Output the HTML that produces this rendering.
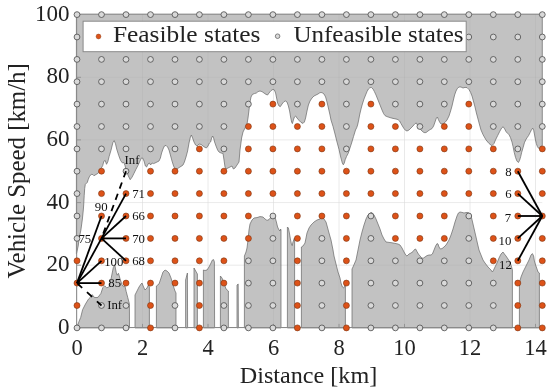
<!DOCTYPE html>
<html><head><meta charset="utf-8"><title>Feasible states</title>
<style>html,body{margin:0;padding:0;background:#fff}body{width:550px;height:391px;position:relative;overflow:hidden}</style>
</head><body>
<svg width="550" height="391" viewBox="0 0 550 391" style="position:absolute;left:0;top:0">
<rect x="0" y="0" width="550" height="391" fill="#fff"/>
<line x1="77.0" y1="14.6" x2="77.0" y2="327.9" stroke="#ececec" stroke-width="0.8"/>
<line x1="142.5" y1="14.6" x2="142.5" y2="327.9" stroke="#ececec" stroke-width="0.8"/>
<line x1="208.0" y1="14.6" x2="208.0" y2="327.9" stroke="#ececec" stroke-width="0.8"/>
<line x1="273.5" y1="14.6" x2="273.5" y2="327.9" stroke="#ececec" stroke-width="0.8"/>
<line x1="339.0" y1="14.6" x2="339.0" y2="327.9" stroke="#ececec" stroke-width="0.8"/>
<line x1="404.5" y1="14.6" x2="404.5" y2="327.9" stroke="#ececec" stroke-width="0.8"/>
<line x1="470.0" y1="14.6" x2="470.0" y2="327.9" stroke="#ececec" stroke-width="0.8"/>
<line x1="535.5" y1="14.6" x2="535.5" y2="327.9" stroke="#ececec" stroke-width="0.8"/>
<line x1="77.0" y1="327.9" x2="542.3" y2="327.9" stroke="#ececec" stroke-width="0.8"/>
<line x1="77.0" y1="265.2" x2="542.3" y2="265.2" stroke="#ececec" stroke-width="0.8"/>
<line x1="77.0" y1="202.6" x2="542.3" y2="202.6" stroke="#ececec" stroke-width="0.8"/>
<line x1="77.0" y1="139.9" x2="542.3" y2="139.9" stroke="#ececec" stroke-width="0.8"/>
<line x1="77.0" y1="77.3" x2="542.3" y2="77.3" stroke="#ececec" stroke-width="0.8"/>
<line x1="77.0" y1="14.6" x2="542.3" y2="14.6" stroke="#ececec" stroke-width="0.8"/>
<polygon points="76.4,14.1 542.3,14.1 542.3,145.0 541.4,147.2 540.0,148.6 538.5,148.2 537.3,146.4 536.3,143.5 535.3,139.2 534.4,134.0 533.7,130.4 532.7,128.2 531.5,129.7 530.1,132.6 528.6,135.5 527.1,137.7 525.7,139.9 524.4,142.8 523.2,147.2 521.7,152.3 520.7,156.6 519.6,160.3 518.4,162.5 516.9,161.0 515.5,157.4 514.2,152.3 513.0,146.4 512.0,142.1 510.5,137.7 509.1,134.8 507.6,133.3 506.2,131.9 504.7,129.0 503.2,126.8 501.8,127.8 499.9,131.1 497.7,135.5 495.5,139.9 494.0,143.5 491.9,145.7 489.0,143.5 486.0,139.9 483.1,134.8 481.0,130.0 479.6,125.0 478.0,119.0 476.4,113.0 475.0,107.0 473.4,101.0 472.0,96.0 470.6,92.4 469.0,89.6 467.0,87.6 465.0,87.4 463.0,88.0 461.0,87.0 459.0,87.0 457.4,88.4 456.0,91.0 454.6,95.0 453.4,100.0 452.0,106.0 450.6,111.0 449.0,116.0 447.0,120.0 445.0,122.4 443.0,124.0 441.0,124.0 439.6,122.0 438.4,119.6 437.4,117.0 436.4,118.0 435.0,122.0 433.6,126.0 432.0,128.6 430.0,129.6 428.0,131.0 426.0,132.6 424.0,132.6 422.0,131.0 420.0,129.0 418.0,126.0 416.4,123.0 415.0,123.6 413.0,126.0 411.0,128.0 409.0,130.0 407.0,131.0 405.6,130.4 404.0,128.6 402.4,126.0 401.0,123.6 399.6,121.0 398.0,119.6 396.0,119.0 393.0,118.4 390.0,117.6 387.0,116.6 385.0,115.6 383.6,113.6 382.0,110.0 380.0,105.0 378.0,100.0 376.0,95.0 374.4,91.6 373.0,89.0 371.6,87.6 370.0,87.6 368.4,89.0 367.0,91.6 365.6,95.0 364.0,99.0 362.4,104.0 361.0,109.0 359.6,115.0 358.7,120.0 357.6,125.0 356.7,127.7 355.5,130.0 353.5,136.6 351.6,143.0 349.7,148.8 348.2,153.3 346.5,156.5 345.2,159.7 344.3,163.0 343.3,164.8 342.3,163.0 340.7,157.0 339.0,149.4 337.0,142.0 335.0,134.0 333.0,126.4 331.0,120.0 330.0,115.0 328.4,108.0 327.0,102.0 325.6,97.0 324.0,94.0 322.0,92.6 320.0,92.6 318.0,94.0 316.0,95.0 314.0,96.0 312.0,98.0 310.0,101.0 308.4,105.0 307.0,111.0 305.6,118.0 304.4,122.0 303.0,123.4 301.0,122.4 299.0,120.4 297.0,118.0 295.6,116.0 294.4,117.0 293.4,120.0 292.4,123.6 291.6,122.0 290.6,117.0 289.6,111.0 288.4,106.0 287.0,102.0 285.6,101.0 284.0,101.6 282.0,104.0 280.4,106.6 279.0,106.0 277.6,103.0 276.6,98.0 275.6,93.0 274.4,90.0 273.0,89.4 271.0,90.6 269.0,93.0 267.6,95.0 266.0,94.4 264.0,93.0 262.0,91.6 260.0,91.0 258.0,91.6 256.4,93.0 254.4,93.6 252.4,94.4 251.0,97.0 250.0,102.0 249.0,110.0 248.0,118.0 247.0,124.0 245.0,128.0 243.0,132.0 241.6,138.0 240.0,150.0 239.0,162.0 237.0,165.0 235.0,168.0 233.4,169.0 232.0,166.0 230.0,167.0 228.0,168.0 226.0,169.0 225.0,167.0 224.0,160.0 223.0,153.4 221.0,153.0 219.0,152.0 217.6,150.0 216.0,146.0 214.6,142.0 213.6,138.0 212.6,136.0 211.6,138.0 210.6,142.0 209.4,143.0 208.0,146.0 206.4,148.0 205.0,147.4 203.0,146.0 201.0,144.4 199.0,144.0 197.0,146.0 195.6,145.0 194.0,142.0 192.6,138.0 191.4,135.0 190.4,137.0 189.0,143.0 187.6,151.0 186.0,157.0 184.4,162.0 183.0,165.0 181.0,166.4 179.0,167.6 177.0,169.0 175.0,169.0 173.6,166.0 172.0,161.0 170.4,155.0 169.0,150.0 167.6,147.0 166.0,145.4 164.4,146.0 163.0,149.0 161.6,153.0 160.4,158.0 159.0,161.0 157.0,162.0 155.0,163.0 153.6,163.6 152.0,163.0 150.6,165.0 149.4,163.0 148.0,164.0 146.6,167.0 145.4,166.0 144.0,161.0 142.6,158.0 141.4,158.0 140.0,161.0 137.9,165.6 135.9,169.4 134.0,173.3 132.1,177.1 130.2,179.7 128.3,175.9 126.3,170.7 125.0,165.6 123.8,162.4 122.5,163.0 120.6,160.5 118.7,155.4 116.7,149.0 115.5,143.8 114.2,140.6 112.9,142.6 111.0,150.2 109.1,156.6 107.8,161.8 106.5,164.3 105.2,160.5 103.9,161.1 102.7,165.6 100.8,169.0 98.6,172.7 97.0,174.0 96.0,174.4 95.0,175.2 93.9,175.7 92.9,174.7 91.9,174.2 90.4,175.2 89.3,176.8 88.3,179.3 87.3,182.4 86.3,183.4 85.3,184.4 84.7,188.5 84.2,195.7 83.7,204.9 83.3,210.0 82.4,219.0 80.9,230.0 79.2,238.0 78.2,246.0 76.4,254.0" fill="#c2c2c2" stroke="#666" stroke-width="0.7" stroke-linejoin="round"/>
<polygon points="76.6,327.9 77.8,325.0 79.2,321.0 80.7,317.4 82.6,309.7 85.5,304.0 88.4,299.2 90.3,297.3 92.2,294.6 94.2,297.3 96.0,297.6 98.0,297.3 100.9,293.4 102.8,287.7 104.7,285.8 106.6,287.7 108.0,287.4 109.5,286.2 111.4,277.1 113.3,267.5 114.7,264.6 116.2,272.3 117.2,275.2 118.5,273.3 120.1,279.0 122.0,284.8 123.5,286.7 124.9,285.8 126.2,291.5 127.7,297.3 128.7,301.1 129.4,304.0 129.5,327.9" fill="#c2c2c2" stroke="#666" stroke-width="0.7" stroke-linejoin="round"/>
<polygon points="135.0,327.9 135.0,295.0 137.0,291.0 139.0,287.0 141.0,284.0 142.0,283.0 143.6,287.0 145.0,290.0 147.0,288.0 148.4,285.0 149.4,287.0 149.4,327.9" fill="#c2c2c2" stroke="#666" stroke-width="0.7" stroke-linejoin="round"/>
<polygon points="156.4,327.9 156.4,286.0 159.0,284.0 161.0,278.0 163.0,272.0 165.0,270.0 167.0,271.0 169.0,273.0 171.0,278.0 173.0,285.0 175.0,291.0 176.0,293.0 176.0,327.9" fill="#c2c2c2" stroke="#666" stroke-width="0.7" stroke-linejoin="round"/>
<polygon points="185.6,327.9 185.6,280.0 187.4,273.0 187.6,327.9" fill="#c2c2c2" stroke="#666" stroke-width="0.7" stroke-linejoin="round"/>
<polygon points="194.0,327.9 194.0,268.0 197.4,274.0 197.4,327.9" fill="#c2c2c2" stroke="#666" stroke-width="0.7" stroke-linejoin="round"/>
<polygon points="203.4,327.9 203.4,270.0 205.0,270.5 207.0,270.0 209.0,267.0 211.0,263.0 212.4,260.0 213.6,259.6 214.4,262.0 214.6,327.9" fill="#c2c2c2" stroke="#666" stroke-width="0.7" stroke-linejoin="round"/>
<polygon points="220.4,327.9 220.4,276.0 222.0,278.0 224.0,283.0 226.0,289.0 228.4,291.0 228.4,327.9" fill="#c2c2c2" stroke="#666" stroke-width="0.7" stroke-linejoin="round"/>
<polygon points="237.0,327.9 237.0,285.0 238.2,284.0 238.4,327.9" fill="#c2c2c2" stroke="#666" stroke-width="0.7" stroke-linejoin="round"/>
<polygon points="244.4,327.9 244.4,256.0 246.0,252.0 247.0,248.0 248.0,240.0 249.0,230.0 250.0,224.0 252.0,220.0 254.0,218.0 257.0,217.6 260.0,216.6 263.0,217.0 265.0,219.0 267.0,220.4 269.0,219.6 271.0,217.0 273.0,216.0 275.0,217.0 276.4,222.0 277.6,227.0 279.0,230.0 280.0,231.0 280.6,229.0 281.0,230.0 281.0,327.9" fill="#c2c2c2" stroke="#666" stroke-width="0.7" stroke-linejoin="round"/>
<polygon points="287.4,327.9 287.4,227.0 288.4,228.0 289.4,233.0 290.4,239.0 291.4,244.0 292.2,245.6 293.0,242.0 294.0,239.0 294.6,238.0 294.6,327.9" fill="#c2c2c2" stroke="#666" stroke-width="0.7" stroke-linejoin="round"/>
<polygon points="301.4,327.9 301.4,247.0 303.0,246.0 305.0,243.0 306.0,238.0 307.0,233.0 309.0,228.0 311.0,225.0 314.0,222.0 317.0,220.0 320.0,219.0 322.0,217.6 324.0,219.0 326.0,222.0 327.4,227.0 329.0,233.0 331.0,240.0 333.0,250.0 334.0,256.0 336.0,264.0 338.0,272.0 340.0,278.0 341.0,283.0 342.4,287.0 343.6,288.0 344.6,286.0 345.4,285.0 345.4,327.9" fill="#c2c2c2" stroke="#666" stroke-width="0.7" stroke-linejoin="round"/>
<polygon points="352.0,327.9 352.0,269.0 353.0,267.0 356.0,260.0 358.0,250.0 360.0,240.0 362.0,232.0 364.0,225.0 366.0,219.0 368.0,215.0 370.0,213.0 372.0,212.6 374.0,215.0 376.0,219.0 378.0,224.0 380.0,229.0 382.0,235.0 384.0,239.0 386.0,242.0 389.0,242.4 392.0,242.8 395.0,243.4 398.0,244.0 400.0,245.0 402.0,248.0 404.0,252.0 406.0,255.4 407.0,256.0 409.0,254.0 411.0,253.0 413.0,251.6 414.4,249.6 415.6,249.0 417.0,251.6 418.4,254.0 420.0,256.0 421.6,257.6 423.0,258.4 425.0,257.0 427.0,255.6 429.0,255.0 431.0,255.0 432.4,254.0 434.0,250.0 435.6,246.0 437.0,243.6 438.0,244.0 439.0,247.0 440.4,249.0 442.0,248.6 444.0,247.0 446.0,245.0 449.0,240.0 451.0,235.0 453.0,229.0 455.0,222.0 457.0,216.0 458.4,213.0 460.0,212.0 462.0,212.4 464.0,213.0 466.0,212.6 468.0,212.4 470.0,214.0 471.6,218.0 473.0,224.0 474.4,230.0 476.0,237.0 477.6,244.0 479.0,250.0 481.0,255.0 483.0,260.0 485.0,263.0 488.0,267.0 491.0,270.0 492.4,272.0 493.6,270.0 495.0,267.0 497.0,263.0 499.0,258.0 501.0,254.0 503.0,252.0 504.4,254.0 506.0,256.0 508.0,259.0 510.0,262.0 511.6,267.0 512.4,270.0 512.4,327.9" fill="#c2c2c2" stroke="#666" stroke-width="0.7" stroke-linejoin="round"/>
<polygon points="519.4,327.9 519.4,283.0 521.0,277.0 523.0,272.0 525.0,268.0 527.0,264.0 529.0,260.0 531.0,255.0 532.4,253.6 533.6,256.0 534.4,261.0 535.6,265.0 537.0,269.0 538.0,272.0 539.4,273.0 539.4,327.9" fill="#c2c2c2" stroke="#666" stroke-width="0.7" stroke-linejoin="round"/>
<line x1="77.0" y1="14.6" x2="77.0" y2="327.9" stroke="#000" stroke-opacity="0.035" stroke-width="0.8"/>
<line x1="142.5" y1="14.6" x2="142.5" y2="327.9" stroke="#000" stroke-opacity="0.035" stroke-width="0.8"/>
<line x1="208.0" y1="14.6" x2="208.0" y2="327.9" stroke="#000" stroke-opacity="0.035" stroke-width="0.8"/>
<line x1="273.5" y1="14.6" x2="273.5" y2="327.9" stroke="#000" stroke-opacity="0.035" stroke-width="0.8"/>
<line x1="339.0" y1="14.6" x2="339.0" y2="327.9" stroke="#000" stroke-opacity="0.035" stroke-width="0.8"/>
<line x1="404.5" y1="14.6" x2="404.5" y2="327.9" stroke="#000" stroke-opacity="0.035" stroke-width="0.8"/>
<line x1="470.0" y1="14.6" x2="470.0" y2="327.9" stroke="#000" stroke-opacity="0.035" stroke-width="0.8"/>
<line x1="535.5" y1="14.6" x2="535.5" y2="327.9" stroke="#000" stroke-opacity="0.035" stroke-width="0.8"/>
<line x1="77.0" y1="327.9" x2="542.3" y2="327.9" stroke="#000" stroke-opacity="0.035" stroke-width="0.8"/>
<line x1="77.0" y1="265.2" x2="542.3" y2="265.2" stroke="#000" stroke-opacity="0.035" stroke-width="0.8"/>
<line x1="77.0" y1="202.6" x2="542.3" y2="202.6" stroke="#000" stroke-opacity="0.035" stroke-width="0.8"/>
<line x1="77.0" y1="139.9" x2="542.3" y2="139.9" stroke="#000" stroke-opacity="0.035" stroke-width="0.8"/>
<line x1="77.0" y1="77.3" x2="542.3" y2="77.3" stroke="#000" stroke-opacity="0.035" stroke-width="0.8"/>
<line x1="77.0" y1="14.6" x2="542.3" y2="14.6" stroke="#000" stroke-opacity="0.035" stroke-width="0.8"/>
<line x1="76.6" y1="14.2" x2="76.6" y2="327.9" stroke="#8a8a8a" stroke-width="1"/>
<line x1="76.1" y1="327.5" x2="542.3" y2="327.5" stroke="#8a8a8a" stroke-width="1"/>
<line x1="77.0" y1="327.9" x2="77.0" y2="323.9" stroke="#8a8a8a" stroke-width="0.8"/>
<line x1="142.5" y1="327.9" x2="142.5" y2="323.9" stroke="#8a8a8a" stroke-width="0.8"/>
<line x1="208.0" y1="327.9" x2="208.0" y2="323.9" stroke="#8a8a8a" stroke-width="0.8"/>
<line x1="273.5" y1="327.9" x2="273.5" y2="323.9" stroke="#8a8a8a" stroke-width="0.8"/>
<line x1="339.0" y1="327.9" x2="339.0" y2="323.9" stroke="#8a8a8a" stroke-width="0.8"/>
<line x1="404.5" y1="327.9" x2="404.5" y2="323.9" stroke="#8a8a8a" stroke-width="0.8"/>
<line x1="470.0" y1="327.9" x2="470.0" y2="323.9" stroke="#8a8a8a" stroke-width="0.8"/>
<line x1="535.5" y1="327.9" x2="535.5" y2="323.9" stroke="#8a8a8a" stroke-width="0.8"/>
<line x1="77.0" y1="327.9" x2="81.0" y2="327.9" stroke="#8a8a8a" stroke-width="0.8"/>
<line x1="77.0" y1="265.2" x2="81.0" y2="265.2" stroke="#8a8a8a" stroke-width="0.8"/>
<line x1="77.0" y1="202.6" x2="81.0" y2="202.6" stroke="#8a8a8a" stroke-width="0.8"/>
<line x1="77.0" y1="139.9" x2="81.0" y2="139.9" stroke="#8a8a8a" stroke-width="0.8"/>
<line x1="77.0" y1="77.3" x2="81.0" y2="77.3" stroke="#8a8a8a" stroke-width="0.8"/>
<line x1="77.0" y1="14.6" x2="81.0" y2="14.6" stroke="#8a8a8a" stroke-width="0.8"/>
<circle cx="77.0" cy="14.6" r="2.9" fill="#d9d9d9" stroke="#4a4a4a" stroke-width="0.8"/>
<circle cx="101.5" cy="14.6" r="2.9" fill="#d9d9d9" stroke="#4a4a4a" stroke-width="0.8"/>
<circle cx="126.0" cy="14.6" r="2.9" fill="#d9d9d9" stroke="#4a4a4a" stroke-width="0.8"/>
<circle cx="150.5" cy="14.6" r="2.9" fill="#d9d9d9" stroke="#4a4a4a" stroke-width="0.8"/>
<circle cx="175.0" cy="14.6" r="2.9" fill="#d9d9d9" stroke="#4a4a4a" stroke-width="0.8"/>
<circle cx="199.4" cy="14.6" r="2.9" fill="#d9d9d9" stroke="#4a4a4a" stroke-width="0.8"/>
<circle cx="223.9" cy="14.6" r="2.9" fill="#d9d9d9" stroke="#4a4a4a" stroke-width="0.8"/>
<circle cx="248.4" cy="14.6" r="2.9" fill="#d9d9d9" stroke="#4a4a4a" stroke-width="0.8"/>
<circle cx="272.9" cy="14.6" r="2.9" fill="#d9d9d9" stroke="#4a4a4a" stroke-width="0.8"/>
<circle cx="297.4" cy="14.6" r="2.9" fill="#d9d9d9" stroke="#4a4a4a" stroke-width="0.8"/>
<circle cx="321.9" cy="14.6" r="2.9" fill="#d9d9d9" stroke="#4a4a4a" stroke-width="0.8"/>
<circle cx="346.4" cy="14.6" r="2.9" fill="#d9d9d9" stroke="#4a4a4a" stroke-width="0.8"/>
<circle cx="370.9" cy="14.6" r="2.9" fill="#d9d9d9" stroke="#4a4a4a" stroke-width="0.8"/>
<circle cx="395.4" cy="14.6" r="2.9" fill="#d9d9d9" stroke="#4a4a4a" stroke-width="0.8"/>
<circle cx="419.9" cy="14.6" r="2.9" fill="#d9d9d9" stroke="#4a4a4a" stroke-width="0.8"/>
<circle cx="444.3" cy="14.6" r="2.9" fill="#d9d9d9" stroke="#4a4a4a" stroke-width="0.8"/>
<circle cx="468.8" cy="14.6" r="2.9" fill="#d9d9d9" stroke="#4a4a4a" stroke-width="0.8"/>
<circle cx="493.3" cy="14.6" r="2.9" fill="#d9d9d9" stroke="#4a4a4a" stroke-width="0.8"/>
<circle cx="517.8" cy="14.6" r="2.9" fill="#d9d9d9" stroke="#4a4a4a" stroke-width="0.8"/>
<circle cx="542.3" cy="14.6" r="2.9" fill="#d9d9d9" stroke="#4a4a4a" stroke-width="0.8"/>
<circle cx="77.0" cy="37.0" r="2.9" fill="#d9d9d9" stroke="#4a4a4a" stroke-width="0.8"/>
<circle cx="101.5" cy="37.0" r="2.9" fill="#d9d9d9" stroke="#4a4a4a" stroke-width="0.8"/>
<circle cx="126.0" cy="37.0" r="2.9" fill="#d9d9d9" stroke="#4a4a4a" stroke-width="0.8"/>
<circle cx="150.5" cy="37.0" r="2.9" fill="#d9d9d9" stroke="#4a4a4a" stroke-width="0.8"/>
<circle cx="175.0" cy="37.0" r="2.9" fill="#d9d9d9" stroke="#4a4a4a" stroke-width="0.8"/>
<circle cx="199.4" cy="37.0" r="2.9" fill="#d9d9d9" stroke="#4a4a4a" stroke-width="0.8"/>
<circle cx="223.9" cy="37.0" r="2.9" fill="#d9d9d9" stroke="#4a4a4a" stroke-width="0.8"/>
<circle cx="248.4" cy="37.0" r="2.9" fill="#d9d9d9" stroke="#4a4a4a" stroke-width="0.8"/>
<circle cx="272.9" cy="37.0" r="2.9" fill="#d9d9d9" stroke="#4a4a4a" stroke-width="0.8"/>
<circle cx="297.4" cy="37.0" r="2.9" fill="#d9d9d9" stroke="#4a4a4a" stroke-width="0.8"/>
<circle cx="321.9" cy="37.0" r="2.9" fill="#d9d9d9" stroke="#4a4a4a" stroke-width="0.8"/>
<circle cx="346.4" cy="37.0" r="2.9" fill="#d9d9d9" stroke="#4a4a4a" stroke-width="0.8"/>
<circle cx="370.9" cy="37.0" r="2.9" fill="#d9d9d9" stroke="#4a4a4a" stroke-width="0.8"/>
<circle cx="395.4" cy="37.0" r="2.9" fill="#d9d9d9" stroke="#4a4a4a" stroke-width="0.8"/>
<circle cx="419.9" cy="37.0" r="2.9" fill="#d9d9d9" stroke="#4a4a4a" stroke-width="0.8"/>
<circle cx="444.3" cy="37.0" r="2.9" fill="#d9d9d9" stroke="#4a4a4a" stroke-width="0.8"/>
<circle cx="468.8" cy="37.0" r="2.9" fill="#d9d9d9" stroke="#4a4a4a" stroke-width="0.8"/>
<circle cx="493.3" cy="37.0" r="2.9" fill="#d9d9d9" stroke="#4a4a4a" stroke-width="0.8"/>
<circle cx="517.8" cy="37.0" r="2.9" fill="#d9d9d9" stroke="#4a4a4a" stroke-width="0.8"/>
<circle cx="542.3" cy="37.0" r="2.9" fill="#d9d9d9" stroke="#4a4a4a" stroke-width="0.8"/>
<circle cx="77.0" cy="59.4" r="2.9" fill="#d9d9d9" stroke="#4a4a4a" stroke-width="0.8"/>
<circle cx="101.5" cy="59.4" r="2.9" fill="#d9d9d9" stroke="#4a4a4a" stroke-width="0.8"/>
<circle cx="126.0" cy="59.4" r="2.9" fill="#d9d9d9" stroke="#4a4a4a" stroke-width="0.8"/>
<circle cx="150.5" cy="59.4" r="2.9" fill="#d9d9d9" stroke="#4a4a4a" stroke-width="0.8"/>
<circle cx="175.0" cy="59.4" r="2.9" fill="#d9d9d9" stroke="#4a4a4a" stroke-width="0.8"/>
<circle cx="199.4" cy="59.4" r="2.9" fill="#d9d9d9" stroke="#4a4a4a" stroke-width="0.8"/>
<circle cx="223.9" cy="59.4" r="2.9" fill="#d9d9d9" stroke="#4a4a4a" stroke-width="0.8"/>
<circle cx="248.4" cy="59.4" r="2.9" fill="#d9d9d9" stroke="#4a4a4a" stroke-width="0.8"/>
<circle cx="272.9" cy="59.4" r="2.9" fill="#d9d9d9" stroke="#4a4a4a" stroke-width="0.8"/>
<circle cx="297.4" cy="59.4" r="2.9" fill="#d9d9d9" stroke="#4a4a4a" stroke-width="0.8"/>
<circle cx="321.9" cy="59.4" r="2.9" fill="#d9d9d9" stroke="#4a4a4a" stroke-width="0.8"/>
<circle cx="346.4" cy="59.4" r="2.9" fill="#d9d9d9" stroke="#4a4a4a" stroke-width="0.8"/>
<circle cx="370.9" cy="59.4" r="2.9" fill="#d9d9d9" stroke="#4a4a4a" stroke-width="0.8"/>
<circle cx="395.4" cy="59.4" r="2.9" fill="#d9d9d9" stroke="#4a4a4a" stroke-width="0.8"/>
<circle cx="419.9" cy="59.4" r="2.9" fill="#d9d9d9" stroke="#4a4a4a" stroke-width="0.8"/>
<circle cx="444.3" cy="59.4" r="2.9" fill="#d9d9d9" stroke="#4a4a4a" stroke-width="0.8"/>
<circle cx="468.8" cy="59.4" r="2.9" fill="#d9d9d9" stroke="#4a4a4a" stroke-width="0.8"/>
<circle cx="493.3" cy="59.4" r="2.9" fill="#d9d9d9" stroke="#4a4a4a" stroke-width="0.8"/>
<circle cx="517.8" cy="59.4" r="2.9" fill="#d9d9d9" stroke="#4a4a4a" stroke-width="0.8"/>
<circle cx="542.3" cy="59.4" r="2.9" fill="#d9d9d9" stroke="#4a4a4a" stroke-width="0.8"/>
<circle cx="77.0" cy="81.7" r="2.9" fill="#d9d9d9" stroke="#4a4a4a" stroke-width="0.8"/>
<circle cx="101.5" cy="81.7" r="2.9" fill="#d9d9d9" stroke="#4a4a4a" stroke-width="0.8"/>
<circle cx="126.0" cy="81.7" r="2.9" fill="#d9d9d9" stroke="#4a4a4a" stroke-width="0.8"/>
<circle cx="150.5" cy="81.7" r="2.9" fill="#d9d9d9" stroke="#4a4a4a" stroke-width="0.8"/>
<circle cx="175.0" cy="81.7" r="2.9" fill="#d9d9d9" stroke="#4a4a4a" stroke-width="0.8"/>
<circle cx="199.4" cy="81.7" r="2.9" fill="#d9d9d9" stroke="#4a4a4a" stroke-width="0.8"/>
<circle cx="223.9" cy="81.7" r="2.9" fill="#d9d9d9" stroke="#4a4a4a" stroke-width="0.8"/>
<circle cx="248.4" cy="81.7" r="2.9" fill="#d9d9d9" stroke="#4a4a4a" stroke-width="0.8"/>
<circle cx="272.9" cy="81.7" r="2.9" fill="#d9d9d9" stroke="#4a4a4a" stroke-width="0.8"/>
<circle cx="297.4" cy="81.7" r="2.9" fill="#d9d9d9" stroke="#4a4a4a" stroke-width="0.8"/>
<circle cx="321.9" cy="81.7" r="2.9" fill="#d9d9d9" stroke="#4a4a4a" stroke-width="0.8"/>
<circle cx="346.4" cy="81.7" r="2.9" fill="#d9d9d9" stroke="#4a4a4a" stroke-width="0.8"/>
<circle cx="370.9" cy="81.7" r="2.9" fill="#d9d9d9" stroke="#4a4a4a" stroke-width="0.8"/>
<circle cx="395.4" cy="81.7" r="2.9" fill="#d9d9d9" stroke="#4a4a4a" stroke-width="0.8"/>
<circle cx="419.9" cy="81.7" r="2.9" fill="#d9d9d9" stroke="#4a4a4a" stroke-width="0.8"/>
<circle cx="444.3" cy="81.7" r="2.9" fill="#d9d9d9" stroke="#4a4a4a" stroke-width="0.8"/>
<circle cx="468.8" cy="81.7" r="2.9" fill="#d9d9d9" stroke="#4a4a4a" stroke-width="0.8"/>
<circle cx="493.3" cy="81.7" r="2.9" fill="#d9d9d9" stroke="#4a4a4a" stroke-width="0.8"/>
<circle cx="517.8" cy="81.7" r="2.9" fill="#d9d9d9" stroke="#4a4a4a" stroke-width="0.8"/>
<circle cx="542.3" cy="81.7" r="2.9" fill="#d9d9d9" stroke="#4a4a4a" stroke-width="0.8"/>
<circle cx="77.0" cy="104.1" r="2.9" fill="#d9d9d9" stroke="#4a4a4a" stroke-width="0.8"/>
<circle cx="101.5" cy="104.1" r="2.9" fill="#d9d9d9" stroke="#4a4a4a" stroke-width="0.8"/>
<circle cx="126.0" cy="104.1" r="2.9" fill="#d9d9d9" stroke="#4a4a4a" stroke-width="0.8"/>
<circle cx="150.5" cy="104.1" r="2.9" fill="#d9d9d9" stroke="#4a4a4a" stroke-width="0.8"/>
<circle cx="175.0" cy="104.1" r="2.9" fill="#d9d9d9" stroke="#4a4a4a" stroke-width="0.8"/>
<circle cx="199.4" cy="104.1" r="2.9" fill="#d9d9d9" stroke="#4a4a4a" stroke-width="0.8"/>
<circle cx="223.9" cy="104.1" r="2.9" fill="#d9d9d9" stroke="#4a4a4a" stroke-width="0.8"/>
<circle cx="248.4" cy="104.1" r="2.9" fill="#d9d9d9" stroke="#4a4a4a" stroke-width="0.8"/>
<circle cx="297.4" cy="104.1" r="2.9" fill="#d9d9d9" stroke="#4a4a4a" stroke-width="0.8"/>
<circle cx="346.4" cy="104.1" r="2.9" fill="#d9d9d9" stroke="#4a4a4a" stroke-width="0.8"/>
<circle cx="395.4" cy="104.1" r="2.9" fill="#d9d9d9" stroke="#4a4a4a" stroke-width="0.8"/>
<circle cx="419.9" cy="104.1" r="2.9" fill="#d9d9d9" stroke="#4a4a4a" stroke-width="0.8"/>
<circle cx="444.3" cy="104.1" r="2.9" fill="#d9d9d9" stroke="#4a4a4a" stroke-width="0.8"/>
<circle cx="493.3" cy="104.1" r="2.9" fill="#d9d9d9" stroke="#4a4a4a" stroke-width="0.8"/>
<circle cx="517.8" cy="104.1" r="2.9" fill="#d9d9d9" stroke="#4a4a4a" stroke-width="0.8"/>
<circle cx="542.3" cy="104.1" r="2.9" fill="#d9d9d9" stroke="#4a4a4a" stroke-width="0.8"/>
<circle cx="77.0" cy="126.5" r="2.9" fill="#d9d9d9" stroke="#4a4a4a" stroke-width="0.8"/>
<circle cx="101.5" cy="126.5" r="2.9" fill="#d9d9d9" stroke="#4a4a4a" stroke-width="0.8"/>
<circle cx="126.0" cy="126.5" r="2.9" fill="#d9d9d9" stroke="#4a4a4a" stroke-width="0.8"/>
<circle cx="150.5" cy="126.5" r="2.9" fill="#d9d9d9" stroke="#4a4a4a" stroke-width="0.8"/>
<circle cx="175.0" cy="126.5" r="2.9" fill="#d9d9d9" stroke="#4a4a4a" stroke-width="0.8"/>
<circle cx="199.4" cy="126.5" r="2.9" fill="#d9d9d9" stroke="#4a4a4a" stroke-width="0.8"/>
<circle cx="223.9" cy="126.5" r="2.9" fill="#d9d9d9" stroke="#4a4a4a" stroke-width="0.8"/>
<circle cx="346.4" cy="126.5" r="2.9" fill="#d9d9d9" stroke="#4a4a4a" stroke-width="0.8"/>
<circle cx="419.9" cy="126.5" r="2.9" fill="#d9d9d9" stroke="#4a4a4a" stroke-width="0.8"/>
<circle cx="493.3" cy="126.5" r="2.9" fill="#d9d9d9" stroke="#4a4a4a" stroke-width="0.8"/>
<circle cx="517.8" cy="126.5" r="2.9" fill="#d9d9d9" stroke="#4a4a4a" stroke-width="0.8"/>
<circle cx="542.3" cy="126.5" r="2.9" fill="#d9d9d9" stroke="#4a4a4a" stroke-width="0.8"/>
<circle cx="77.0" cy="148.9" r="2.9" fill="#d9d9d9" stroke="#4a4a4a" stroke-width="0.8"/>
<circle cx="101.5" cy="148.9" r="2.9" fill="#d9d9d9" stroke="#4a4a4a" stroke-width="0.8"/>
<circle cx="126.0" cy="148.9" r="2.9" fill="#d9d9d9" stroke="#4a4a4a" stroke-width="0.8"/>
<circle cx="150.5" cy="148.9" r="2.9" fill="#d9d9d9" stroke="#4a4a4a" stroke-width="0.8"/>
<circle cx="175.0" cy="148.9" r="2.9" fill="#d9d9d9" stroke="#4a4a4a" stroke-width="0.8"/>
<circle cx="223.9" cy="148.9" r="2.9" fill="#d9d9d9" stroke="#4a4a4a" stroke-width="0.8"/>
<circle cx="346.4" cy="148.9" r="2.9" fill="#d9d9d9" stroke="#4a4a4a" stroke-width="0.8"/>
<circle cx="517.8" cy="148.9" r="2.9" fill="#d9d9d9" stroke="#4a4a4a" stroke-width="0.8"/>
<circle cx="77.0" cy="171.2" r="2.9" fill="#d9d9d9" stroke="#4a4a4a" stroke-width="0.8"/>
<circle cx="126.0" cy="171.2" r="2.9" fill="#d9d9d9" stroke="#4a4a4a" stroke-width="0.8"/>
<circle cx="77.0" cy="193.6" r="2.9" fill="#d9d9d9" stroke="#4a4a4a" stroke-width="0.8"/>
<circle cx="77.0" cy="216.0" r="2.9" fill="#d9d9d9" stroke="#4a4a4a" stroke-width="0.8"/>
<circle cx="272.9" cy="216.0" r="2.9" fill="#d9d9d9" stroke="#4a4a4a" stroke-width="0.8"/>
<circle cx="370.9" cy="216.0" r="2.9" fill="#d9d9d9" stroke="#4a4a4a" stroke-width="0.8"/>
<circle cx="468.8" cy="216.0" r="2.9" fill="#d9d9d9" stroke="#4a4a4a" stroke-width="0.8"/>
<circle cx="77.0" cy="238.4" r="2.9" fill="#d9d9d9" stroke="#4a4a4a" stroke-width="0.8"/>
<circle cx="272.9" cy="238.4" r="2.9" fill="#d9d9d9" stroke="#4a4a4a" stroke-width="0.8"/>
<circle cx="321.9" cy="238.4" r="2.9" fill="#d9d9d9" stroke="#4a4a4a" stroke-width="0.8"/>
<circle cx="370.9" cy="238.4" r="2.9" fill="#d9d9d9" stroke="#4a4a4a" stroke-width="0.8"/>
<circle cx="468.8" cy="238.4" r="2.9" fill="#d9d9d9" stroke="#4a4a4a" stroke-width="0.8"/>
<circle cx="248.4" cy="260.8" r="2.9" fill="#d9d9d9" stroke="#4a4a4a" stroke-width="0.8"/>
<circle cx="272.9" cy="260.8" r="2.9" fill="#d9d9d9" stroke="#4a4a4a" stroke-width="0.8"/>
<circle cx="321.9" cy="260.8" r="2.9" fill="#d9d9d9" stroke="#4a4a4a" stroke-width="0.8"/>
<circle cx="370.9" cy="260.8" r="2.9" fill="#d9d9d9" stroke="#4a4a4a" stroke-width="0.8"/>
<circle cx="395.4" cy="260.8" r="2.9" fill="#d9d9d9" stroke="#4a4a4a" stroke-width="0.8"/>
<circle cx="419.9" cy="260.8" r="2.9" fill="#d9d9d9" stroke="#4a4a4a" stroke-width="0.8"/>
<circle cx="444.3" cy="260.8" r="2.9" fill="#d9d9d9" stroke="#4a4a4a" stroke-width="0.8"/>
<circle cx="468.8" cy="260.8" r="2.9" fill="#d9d9d9" stroke="#4a4a4a" stroke-width="0.8"/>
<circle cx="248.4" cy="283.1" r="2.9" fill="#d9d9d9" stroke="#4a4a4a" stroke-width="0.8"/>
<circle cx="272.9" cy="283.1" r="2.9" fill="#d9d9d9" stroke="#4a4a4a" stroke-width="0.8"/>
<circle cx="321.9" cy="283.1" r="2.9" fill="#d9d9d9" stroke="#4a4a4a" stroke-width="0.8"/>
<circle cx="370.9" cy="283.1" r="2.9" fill="#d9d9d9" stroke="#4a4a4a" stroke-width="0.8"/>
<circle cx="395.4" cy="283.1" r="2.9" fill="#d9d9d9" stroke="#4a4a4a" stroke-width="0.8"/>
<circle cx="419.9" cy="283.1" r="2.9" fill="#d9d9d9" stroke="#4a4a4a" stroke-width="0.8"/>
<circle cx="444.3" cy="283.1" r="2.9" fill="#d9d9d9" stroke="#4a4a4a" stroke-width="0.8"/>
<circle cx="468.8" cy="283.1" r="2.9" fill="#d9d9d9" stroke="#4a4a4a" stroke-width="0.8"/>
<circle cx="493.3" cy="283.1" r="2.9" fill="#d9d9d9" stroke="#4a4a4a" stroke-width="0.8"/>
<circle cx="101.5" cy="305.5" r="2.9" fill="#d9d9d9" stroke="#4a4a4a" stroke-width="0.8"/>
<circle cx="126.0" cy="305.5" r="2.9" fill="#d9d9d9" stroke="#4a4a4a" stroke-width="0.8"/>
<circle cx="175.0" cy="305.5" r="2.9" fill="#d9d9d9" stroke="#4a4a4a" stroke-width="0.8"/>
<circle cx="223.9" cy="305.5" r="2.9" fill="#d9d9d9" stroke="#4a4a4a" stroke-width="0.8"/>
<circle cx="248.4" cy="305.5" r="2.9" fill="#d9d9d9" stroke="#4a4a4a" stroke-width="0.8"/>
<circle cx="272.9" cy="305.5" r="2.9" fill="#d9d9d9" stroke="#4a4a4a" stroke-width="0.8"/>
<circle cx="321.9" cy="305.5" r="2.9" fill="#d9d9d9" stroke="#4a4a4a" stroke-width="0.8"/>
<circle cx="370.9" cy="305.5" r="2.9" fill="#d9d9d9" stroke="#4a4a4a" stroke-width="0.8"/>
<circle cx="395.4" cy="305.5" r="2.9" fill="#d9d9d9" stroke="#4a4a4a" stroke-width="0.8"/>
<circle cx="419.9" cy="305.5" r="2.9" fill="#d9d9d9" stroke="#4a4a4a" stroke-width="0.8"/>
<circle cx="444.3" cy="305.5" r="2.9" fill="#d9d9d9" stroke="#4a4a4a" stroke-width="0.8"/>
<circle cx="468.8" cy="305.5" r="2.9" fill="#d9d9d9" stroke="#4a4a4a" stroke-width="0.8"/>
<circle cx="493.3" cy="305.5" r="2.9" fill="#d9d9d9" stroke="#4a4a4a" stroke-width="0.8"/>
<circle cx="77.0" cy="327.9" r="2.9" fill="#d9d9d9" stroke="#4a4a4a" stroke-width="0.8"/>
<circle cx="101.5" cy="327.9" r="2.9" fill="#d9d9d9" stroke="#4a4a4a" stroke-width="0.8"/>
<circle cx="126.0" cy="327.9" r="2.9" fill="#d9d9d9" stroke="#4a4a4a" stroke-width="0.8"/>
<circle cx="175.0" cy="327.9" r="2.9" fill="#d9d9d9" stroke="#4a4a4a" stroke-width="0.8"/>
<circle cx="223.9" cy="327.9" r="2.9" fill="#d9d9d9" stroke="#4a4a4a" stroke-width="0.8"/>
<circle cx="248.4" cy="327.9" r="2.9" fill="#d9d9d9" stroke="#4a4a4a" stroke-width="0.8"/>
<circle cx="272.9" cy="327.9" r="2.9" fill="#d9d9d9" stroke="#4a4a4a" stroke-width="0.8"/>
<circle cx="321.9" cy="327.9" r="2.9" fill="#d9d9d9" stroke="#4a4a4a" stroke-width="0.8"/>
<circle cx="370.9" cy="327.9" r="2.9" fill="#d9d9d9" stroke="#4a4a4a" stroke-width="0.8"/>
<circle cx="395.4" cy="327.9" r="2.9" fill="#d9d9d9" stroke="#4a4a4a" stroke-width="0.8"/>
<circle cx="419.9" cy="327.9" r="2.9" fill="#d9d9d9" stroke="#4a4a4a" stroke-width="0.8"/>
<circle cx="444.3" cy="327.9" r="2.9" fill="#d9d9d9" stroke="#4a4a4a" stroke-width="0.8"/>
<circle cx="468.8" cy="327.9" r="2.9" fill="#d9d9d9" stroke="#4a4a4a" stroke-width="0.8"/>
<circle cx="493.3" cy="327.9" r="2.9" fill="#d9d9d9" stroke="#4a4a4a" stroke-width="0.8"/>
<circle cx="272.9" cy="104.1" r="3.0" fill="#dd5218" stroke="#7a3410" stroke-width="0.6"/>
<circle cx="321.9" cy="104.1" r="3.0" fill="#dd5218" stroke="#7a3410" stroke-width="0.6"/>
<circle cx="370.9" cy="104.1" r="3.0" fill="#dd5218" stroke="#7a3410" stroke-width="0.6"/>
<circle cx="468.8" cy="104.1" r="3.0" fill="#dd5218" stroke="#7a3410" stroke-width="0.6"/>
<circle cx="248.4" cy="126.5" r="3.0" fill="#dd5218" stroke="#7a3410" stroke-width="0.6"/>
<circle cx="272.9" cy="126.5" r="3.0" fill="#dd5218" stroke="#7a3410" stroke-width="0.6"/>
<circle cx="297.4" cy="126.5" r="3.0" fill="#dd5218" stroke="#7a3410" stroke-width="0.6"/>
<circle cx="321.9" cy="126.5" r="3.0" fill="#dd5218" stroke="#7a3410" stroke-width="0.6"/>
<circle cx="370.9" cy="126.5" r="3.0" fill="#dd5218" stroke="#7a3410" stroke-width="0.6"/>
<circle cx="395.4" cy="126.5" r="3.0" fill="#dd5218" stroke="#7a3410" stroke-width="0.6"/>
<circle cx="444.3" cy="126.5" r="3.0" fill="#dd5218" stroke="#7a3410" stroke-width="0.6"/>
<circle cx="468.8" cy="126.5" r="3.0" fill="#dd5218" stroke="#7a3410" stroke-width="0.6"/>
<circle cx="199.4" cy="148.9" r="3.0" fill="#dd5218" stroke="#7a3410" stroke-width="0.6"/>
<circle cx="248.4" cy="148.9" r="3.0" fill="#dd5218" stroke="#7a3410" stroke-width="0.6"/>
<circle cx="272.9" cy="148.9" r="3.0" fill="#dd5218" stroke="#7a3410" stroke-width="0.6"/>
<circle cx="297.4" cy="148.9" r="3.0" fill="#dd5218" stroke="#7a3410" stroke-width="0.6"/>
<circle cx="321.9" cy="148.9" r="3.0" fill="#dd5218" stroke="#7a3410" stroke-width="0.6"/>
<circle cx="370.9" cy="148.9" r="3.0" fill="#dd5218" stroke="#7a3410" stroke-width="0.6"/>
<circle cx="395.4" cy="148.9" r="3.0" fill="#dd5218" stroke="#7a3410" stroke-width="0.6"/>
<circle cx="419.9" cy="148.9" r="3.0" fill="#dd5218" stroke="#7a3410" stroke-width="0.6"/>
<circle cx="444.3" cy="148.9" r="3.0" fill="#dd5218" stroke="#7a3410" stroke-width="0.6"/>
<circle cx="468.8" cy="148.9" r="3.0" fill="#dd5218" stroke="#7a3410" stroke-width="0.6"/>
<circle cx="493.3" cy="148.9" r="3.0" fill="#dd5218" stroke="#7a3410" stroke-width="0.6"/>
<circle cx="542.3" cy="148.9" r="3.0" fill="#dd5218" stroke="#7a3410" stroke-width="0.6"/>
<circle cx="101.5" cy="171.2" r="3.0" fill="#dd5218" stroke="#7a3410" stroke-width="0.6"/>
<circle cx="150.5" cy="171.2" r="3.0" fill="#dd5218" stroke="#7a3410" stroke-width="0.6"/>
<circle cx="175.0" cy="171.2" r="3.0" fill="#dd5218" stroke="#7a3410" stroke-width="0.6"/>
<circle cx="199.4" cy="171.2" r="3.0" fill="#dd5218" stroke="#7a3410" stroke-width="0.6"/>
<circle cx="223.9" cy="171.2" r="3.0" fill="#dd5218" stroke="#7a3410" stroke-width="0.6"/>
<circle cx="248.4" cy="171.2" r="3.0" fill="#dd5218" stroke="#7a3410" stroke-width="0.6"/>
<circle cx="272.9" cy="171.2" r="3.0" fill="#dd5218" stroke="#7a3410" stroke-width="0.6"/>
<circle cx="297.4" cy="171.2" r="3.0" fill="#dd5218" stroke="#7a3410" stroke-width="0.6"/>
<circle cx="321.9" cy="171.2" r="3.0" fill="#dd5218" stroke="#7a3410" stroke-width="0.6"/>
<circle cx="346.4" cy="171.2" r="3.0" fill="#dd5218" stroke="#7a3410" stroke-width="0.6"/>
<circle cx="370.9" cy="171.2" r="3.0" fill="#dd5218" stroke="#7a3410" stroke-width="0.6"/>
<circle cx="395.4" cy="171.2" r="3.0" fill="#dd5218" stroke="#7a3410" stroke-width="0.6"/>
<circle cx="419.9" cy="171.2" r="3.0" fill="#dd5218" stroke="#7a3410" stroke-width="0.6"/>
<circle cx="444.3" cy="171.2" r="3.0" fill="#dd5218" stroke="#7a3410" stroke-width="0.6"/>
<circle cx="468.8" cy="171.2" r="3.0" fill="#dd5218" stroke="#7a3410" stroke-width="0.6"/>
<circle cx="493.3" cy="171.2" r="3.0" fill="#dd5218" stroke="#7a3410" stroke-width="0.6"/>
<circle cx="517.8" cy="171.2" r="3.0" fill="#dd5218" stroke="#7a3410" stroke-width="0.6"/>
<circle cx="542.3" cy="171.2" r="3.0" fill="#dd5218" stroke="#7a3410" stroke-width="0.6"/>
<circle cx="101.5" cy="193.6" r="3.0" fill="#dd5218" stroke="#7a3410" stroke-width="0.6"/>
<circle cx="126.0" cy="193.6" r="3.0" fill="#dd5218" stroke="#7a3410" stroke-width="0.6"/>
<circle cx="150.5" cy="193.6" r="3.0" fill="#dd5218" stroke="#7a3410" stroke-width="0.6"/>
<circle cx="175.0" cy="193.6" r="3.0" fill="#dd5218" stroke="#7a3410" stroke-width="0.6"/>
<circle cx="199.4" cy="193.6" r="3.0" fill="#dd5218" stroke="#7a3410" stroke-width="0.6"/>
<circle cx="223.9" cy="193.6" r="3.0" fill="#dd5218" stroke="#7a3410" stroke-width="0.6"/>
<circle cx="248.4" cy="193.6" r="3.0" fill="#dd5218" stroke="#7a3410" stroke-width="0.6"/>
<circle cx="272.9" cy="193.6" r="3.0" fill="#dd5218" stroke="#7a3410" stroke-width="0.6"/>
<circle cx="297.4" cy="193.6" r="3.0" fill="#dd5218" stroke="#7a3410" stroke-width="0.6"/>
<circle cx="321.9" cy="193.6" r="3.0" fill="#dd5218" stroke="#7a3410" stroke-width="0.6"/>
<circle cx="346.4" cy="193.6" r="3.0" fill="#dd5218" stroke="#7a3410" stroke-width="0.6"/>
<circle cx="370.9" cy="193.6" r="3.0" fill="#dd5218" stroke="#7a3410" stroke-width="0.6"/>
<circle cx="395.4" cy="193.6" r="3.0" fill="#dd5218" stroke="#7a3410" stroke-width="0.6"/>
<circle cx="419.9" cy="193.6" r="3.0" fill="#dd5218" stroke="#7a3410" stroke-width="0.6"/>
<circle cx="444.3" cy="193.6" r="3.0" fill="#dd5218" stroke="#7a3410" stroke-width="0.6"/>
<circle cx="468.8" cy="193.6" r="3.0" fill="#dd5218" stroke="#7a3410" stroke-width="0.6"/>
<circle cx="493.3" cy="193.6" r="3.0" fill="#dd5218" stroke="#7a3410" stroke-width="0.6"/>
<circle cx="517.8" cy="193.6" r="3.0" fill="#dd5218" stroke="#7a3410" stroke-width="0.6"/>
<circle cx="542.3" cy="193.6" r="3.0" fill="#dd5218" stroke="#7a3410" stroke-width="0.6"/>
<circle cx="101.5" cy="216.0" r="3.0" fill="#dd5218" stroke="#7a3410" stroke-width="0.6"/>
<circle cx="126.0" cy="216.0" r="3.0" fill="#dd5218" stroke="#7a3410" stroke-width="0.6"/>
<circle cx="150.5" cy="216.0" r="3.0" fill="#dd5218" stroke="#7a3410" stroke-width="0.6"/>
<circle cx="175.0" cy="216.0" r="3.0" fill="#dd5218" stroke="#7a3410" stroke-width="0.6"/>
<circle cx="199.4" cy="216.0" r="3.0" fill="#dd5218" stroke="#7a3410" stroke-width="0.6"/>
<circle cx="223.9" cy="216.0" r="3.0" fill="#dd5218" stroke="#7a3410" stroke-width="0.6"/>
<circle cx="248.4" cy="216.0" r="3.0" fill="#dd5218" stroke="#7a3410" stroke-width="0.6"/>
<circle cx="297.4" cy="216.0" r="3.0" fill="#dd5218" stroke="#7a3410" stroke-width="0.6"/>
<circle cx="321.9" cy="216.0" r="3.0" fill="#dd5218" stroke="#7a3410" stroke-width="0.6"/>
<circle cx="346.4" cy="216.0" r="3.0" fill="#dd5218" stroke="#7a3410" stroke-width="0.6"/>
<circle cx="395.4" cy="216.0" r="3.0" fill="#dd5218" stroke="#7a3410" stroke-width="0.6"/>
<circle cx="419.9" cy="216.0" r="3.0" fill="#dd5218" stroke="#7a3410" stroke-width="0.6"/>
<circle cx="444.3" cy="216.0" r="3.0" fill="#dd5218" stroke="#7a3410" stroke-width="0.6"/>
<circle cx="493.3" cy="216.0" r="3.0" fill="#dd5218" stroke="#7a3410" stroke-width="0.6"/>
<circle cx="517.8" cy="216.0" r="3.0" fill="#dd5218" stroke="#7a3410" stroke-width="0.6"/>
<circle cx="542.3" cy="216.0" r="3.0" fill="#dd5218" stroke="#7a3410" stroke-width="0.6"/>
<circle cx="101.5" cy="238.4" r="3.0" fill="#dd5218" stroke="#7a3410" stroke-width="0.6"/>
<circle cx="126.0" cy="238.4" r="3.0" fill="#dd5218" stroke="#7a3410" stroke-width="0.6"/>
<circle cx="150.5" cy="238.4" r="3.0" fill="#dd5218" stroke="#7a3410" stroke-width="0.6"/>
<circle cx="175.0" cy="238.4" r="3.0" fill="#dd5218" stroke="#7a3410" stroke-width="0.6"/>
<circle cx="199.4" cy="238.4" r="3.0" fill="#dd5218" stroke="#7a3410" stroke-width="0.6"/>
<circle cx="223.9" cy="238.4" r="3.0" fill="#dd5218" stroke="#7a3410" stroke-width="0.6"/>
<circle cx="248.4" cy="238.4" r="3.0" fill="#dd5218" stroke="#7a3410" stroke-width="0.6"/>
<circle cx="297.4" cy="238.4" r="3.0" fill="#dd5218" stroke="#7a3410" stroke-width="0.6"/>
<circle cx="346.4" cy="238.4" r="3.0" fill="#dd5218" stroke="#7a3410" stroke-width="0.6"/>
<circle cx="395.4" cy="238.4" r="3.0" fill="#dd5218" stroke="#7a3410" stroke-width="0.6"/>
<circle cx="419.9" cy="238.4" r="3.0" fill="#dd5218" stroke="#7a3410" stroke-width="0.6"/>
<circle cx="444.3" cy="238.4" r="3.0" fill="#dd5218" stroke="#7a3410" stroke-width="0.6"/>
<circle cx="493.3" cy="238.4" r="3.0" fill="#dd5218" stroke="#7a3410" stroke-width="0.6"/>
<circle cx="517.8" cy="238.4" r="3.0" fill="#dd5218" stroke="#7a3410" stroke-width="0.6"/>
<circle cx="542.3" cy="238.4" r="3.0" fill="#dd5218" stroke="#7a3410" stroke-width="0.6"/>
<circle cx="77.0" cy="260.8" r="3.0" fill="#dd5218" stroke="#7a3410" stroke-width="0.6"/>
<circle cx="101.5" cy="260.8" r="3.0" fill="#dd5218" stroke="#7a3410" stroke-width="0.6"/>
<circle cx="126.0" cy="260.8" r="3.0" fill="#dd5218" stroke="#7a3410" stroke-width="0.6"/>
<circle cx="150.5" cy="260.8" r="3.0" fill="#dd5218" stroke="#7a3410" stroke-width="0.6"/>
<circle cx="175.0" cy="260.8" r="3.0" fill="#dd5218" stroke="#7a3410" stroke-width="0.6"/>
<circle cx="199.4" cy="260.8" r="3.0" fill="#dd5218" stroke="#7a3410" stroke-width="0.6"/>
<circle cx="223.9" cy="260.8" r="3.0" fill="#dd5218" stroke="#7a3410" stroke-width="0.6"/>
<circle cx="297.4" cy="260.8" r="3.0" fill="#dd5218" stroke="#7a3410" stroke-width="0.6"/>
<circle cx="346.4" cy="260.8" r="3.0" fill="#dd5218" stroke="#7a3410" stroke-width="0.6"/>
<circle cx="493.3" cy="260.8" r="3.0" fill="#dd5218" stroke="#7a3410" stroke-width="0.6"/>
<circle cx="517.8" cy="260.8" r="3.0" fill="#dd5218" stroke="#7a3410" stroke-width="0.6"/>
<circle cx="542.3" cy="260.8" r="3.0" fill="#dd5218" stroke="#7a3410" stroke-width="0.6"/>
<circle cx="77.0" cy="283.1" r="3.0" fill="#dd5218" stroke="#7a3410" stroke-width="0.6"/>
<circle cx="101.5" cy="283.1" r="3.0" fill="#dd5218" stroke="#7a3410" stroke-width="0.6"/>
<circle cx="126.0" cy="283.1" r="3.0" fill="#dd5218" stroke="#7a3410" stroke-width="0.6"/>
<circle cx="150.5" cy="283.1" r="3.0" fill="#dd5218" stroke="#7a3410" stroke-width="0.6"/>
<circle cx="175.0" cy="283.1" r="3.0" fill="#dd5218" stroke="#7a3410" stroke-width="0.6"/>
<circle cx="199.4" cy="283.1" r="3.0" fill="#dd5218" stroke="#7a3410" stroke-width="0.6"/>
<circle cx="223.9" cy="283.1" r="3.0" fill="#dd5218" stroke="#7a3410" stroke-width="0.6"/>
<circle cx="297.4" cy="283.1" r="3.0" fill="#dd5218" stroke="#7a3410" stroke-width="0.6"/>
<circle cx="346.4" cy="283.1" r="3.0" fill="#dd5218" stroke="#7a3410" stroke-width="0.6"/>
<circle cx="517.8" cy="283.1" r="3.0" fill="#dd5218" stroke="#7a3410" stroke-width="0.6"/>
<circle cx="542.3" cy="283.1" r="3.0" fill="#dd5218" stroke="#7a3410" stroke-width="0.6"/>
<circle cx="77.0" cy="305.5" r="3.0" fill="#dd5218" stroke="#7a3410" stroke-width="0.6"/>
<circle cx="150.5" cy="305.5" r="3.0" fill="#dd5218" stroke="#7a3410" stroke-width="0.6"/>
<circle cx="199.4" cy="305.5" r="3.0" fill="#dd5218" stroke="#7a3410" stroke-width="0.6"/>
<circle cx="297.4" cy="305.5" r="3.0" fill="#dd5218" stroke="#7a3410" stroke-width="0.6"/>
<circle cx="346.4" cy="305.5" r="3.0" fill="#dd5218" stroke="#7a3410" stroke-width="0.6"/>
<circle cx="517.8" cy="305.5" r="3.0" fill="#dd5218" stroke="#7a3410" stroke-width="0.6"/>
<circle cx="542.3" cy="305.5" r="3.0" fill="#dd5218" stroke="#7a3410" stroke-width="0.6"/>
<circle cx="150.5" cy="327.9" r="3.0" fill="#dd5218" stroke="#7a3410" stroke-width="0.6"/>
<circle cx="199.4" cy="327.9" r="3.0" fill="#dd5218" stroke="#7a3410" stroke-width="0.6"/>
<circle cx="297.4" cy="327.9" r="3.0" fill="#dd5218" stroke="#7a3410" stroke-width="0.6"/>
<circle cx="346.4" cy="327.9" r="3.0" fill="#dd5218" stroke="#7a3410" stroke-width="0.6"/>
<circle cx="517.8" cy="327.9" r="3.0" fill="#dd5218" stroke="#7a3410" stroke-width="0.6"/>
<circle cx="542.3" cy="327.9" r="3.0" fill="#dd5218" stroke="#7a3410" stroke-width="0.6"/>
<line x1="77.0" y1="283.1" x2="101.5" y2="216.0" stroke="#000" stroke-width="1.8" stroke-linecap="butt"/>
<line x1="77.0" y1="283.1" x2="101.5" y2="238.4" stroke="#000" stroke-width="1.8" stroke-linecap="butt"/>
<line x1="77.0" y1="283.1" x2="101.5" y2="260.8" stroke="#000" stroke-width="1.8" stroke-linecap="butt"/>
<line x1="77.0" y1="283.1" x2="101.5" y2="283.1" stroke="#000" stroke-width="1.8" stroke-linecap="butt"/>
<line x1="77.0" y1="283.1" x2="101.5" y2="305.5" stroke="#000" stroke-width="1.8" stroke-linecap="butt" stroke-dasharray="7 6.5"/>
<line x1="101.5" y1="238.4" x2="126.0" y2="193.6" stroke="#000" stroke-width="1.8" stroke-linecap="butt"/>
<line x1="101.5" y1="238.4" x2="126.0" y2="216.0" stroke="#000" stroke-width="1.8" stroke-linecap="butt"/>
<line x1="101.5" y1="238.4" x2="126.0" y2="238.4" stroke="#000" stroke-width="1.8" stroke-linecap="butt"/>
<line x1="101.5" y1="238.4" x2="126.0" y2="260.8" stroke="#000" stroke-width="1.8" stroke-linecap="butt"/>
<line x1="126.0" y1="171.2" x2="101.5" y2="238.4" stroke="#000" stroke-width="1.8" stroke-linecap="butt" stroke-dasharray="6.5 5.5"/>
<line x1="542.3" y1="216.0" x2="517.8" y2="171.2" stroke="#000" stroke-width="1.8" stroke-linecap="butt"/>
<line x1="542.3" y1="216.0" x2="517.8" y2="193.6" stroke="#000" stroke-width="1.8" stroke-linecap="butt"/>
<line x1="542.3" y1="216.0" x2="517.8" y2="216.0" stroke="#000" stroke-width="1.8" stroke-linecap="butt"/>
<line x1="542.3" y1="216.0" x2="517.8" y2="238.4" stroke="#000" stroke-width="1.8" stroke-linecap="butt"/>
<line x1="542.3" y1="216.0" x2="517.8" y2="260.8" stroke="#000" stroke-width="1.8" stroke-linecap="butt"/>
<text x="124.6" y="164.2" text-anchor="start" font-family="Liberation Serif, serif" font-size="12.8" fill="#111">Inf</text>
<text x="132.2" y="197.9" text-anchor="start" font-family="Liberation Serif, serif" font-size="12.8" fill="#111">71</text>
<text x="132.2" y="220.4" text-anchor="start" font-family="Liberation Serif, serif" font-size="12.8" fill="#111">66</text>
<text x="132.2" y="242.8" text-anchor="start" font-family="Liberation Serif, serif" font-size="12.8" fill="#111">70</text>
<text x="132.2" y="265.2" text-anchor="start" font-family="Liberation Serif, serif" font-size="12.8" fill="#111">68</text>
<text x="101.2" y="211.4" text-anchor="middle" font-family="Liberation Serif, serif" font-size="12.8" fill="#111">90</text>
<text x="91.2" y="242.8" text-anchor="end" font-family="Liberation Serif, serif" font-size="12.8" fill="#111">75</text>
<text x="104.2" y="266.0" text-anchor="start" font-family="Liberation Serif, serif" font-size="12.8" fill="#111">100</text>
<text x="108.3" y="287.4" text-anchor="start" font-family="Liberation Serif, serif" font-size="12.8" fill="#111">85</text>
<text x="107.2" y="308.6" text-anchor="start" font-family="Liberation Serif, serif" font-size="12.8" fill="#111">Inf</text>
<text x="511.6" y="176.1" text-anchor="end" font-family="Liberation Serif, serif" font-size="12.8" fill="#111">8</text>
<text x="511.6" y="198.4" text-anchor="end" font-family="Liberation Serif, serif" font-size="12.8" fill="#111">6</text>
<text x="511.2" y="222.1" text-anchor="end" font-family="Liberation Serif, serif" font-size="12.8" fill="#111">7</text>
<text x="511.4" y="245.4" text-anchor="end" font-family="Liberation Serif, serif" font-size="12.8" fill="#111">10</text>
<text x="511.8" y="268.6" text-anchor="end" font-family="Liberation Serif, serif" font-size="12.8" fill="#111">12</text>
<rect x="83.1" y="21.2" width="383.1" height="30.5" fill="#fff" stroke="#8a8a8a" stroke-width="1"/>
<circle cx="98.5" cy="36.5" r="2.4" fill="#dd5218" stroke="#8a3a12" stroke-width="0.5"/>
<circle cx="277.6" cy="36.2" r="2.3" fill="#d9d9d9" stroke="#555" stroke-width="0.7"/>
<text x="112.9" y="42.3" font-size="23.6" textLength="147.6" lengthAdjust="spacingAndGlyphs" font-family="Liberation Serif, serif" fill="#222">Feasible states</text>
<text x="293.4" y="42.3" font-size="23.6" textLength="170.2" lengthAdjust="spacingAndGlyphs" font-family="Liberation Serif, serif" fill="#222">Unfeasible states</text>
<text x="77.0" y="355.2" font-size="22.5" text-anchor="middle" font-family="Liberation Serif, serif" fill="#222">0</text>
<text x="142.5" y="355.2" font-size="22.5" text-anchor="middle" font-family="Liberation Serif, serif" fill="#222">2</text>
<text x="208.0" y="355.2" font-size="22.5" text-anchor="middle" font-family="Liberation Serif, serif" fill="#222">4</text>
<text x="273.5" y="355.2" font-size="22.5" text-anchor="middle" font-family="Liberation Serif, serif" fill="#222">6</text>
<text x="339.0" y="355.2" font-size="22.5" text-anchor="middle" font-family="Liberation Serif, serif" fill="#222">8</text>
<text x="404.5" y="355.2" font-size="22.5" text-anchor="middle" font-family="Liberation Serif, serif" fill="#222">10</text>
<text x="470.0" y="355.2" font-size="22.5" text-anchor="middle" font-family="Liberation Serif, serif" fill="#222">12</text>
<text x="535.5" y="355.2" font-size="22.5" text-anchor="middle" font-family="Liberation Serif, serif" fill="#222">14</text>
<text x="69.4" y="333.9" font-size="23" text-anchor="end" font-family="Liberation Serif, serif" fill="#222">0</text>
<text x="69.4" y="271.2" font-size="23" text-anchor="end" font-family="Liberation Serif, serif" fill="#222">20</text>
<text x="69.4" y="208.6" font-size="23" text-anchor="end" font-family="Liberation Serif, serif" fill="#222">40</text>
<text x="69.4" y="145.9" font-size="23" text-anchor="end" font-family="Liberation Serif, serif" fill="#222">60</text>
<text x="69.4" y="83.3" font-size="23" text-anchor="end" font-family="Liberation Serif, serif" fill="#222">80</text>
<text x="69.4" y="20.6" font-size="23" text-anchor="end" font-family="Liberation Serif, serif" fill="#222">100</text>
<text x="239.8" y="382.8" font-size="23.9" textLength="137.4" lengthAdjust="spacingAndGlyphs" font-family="Liberation Serif, serif" fill="#222">Distance [km]</text>
<text transform="translate(25.4,278.6) rotate(-90)" font-size="25.2" textLength="215.4" lengthAdjust="spacingAndGlyphs" font-family="Liberation Serif, serif" fill="#222">Vehicle Speed [km/h]</text>
</svg>
</body></html>
